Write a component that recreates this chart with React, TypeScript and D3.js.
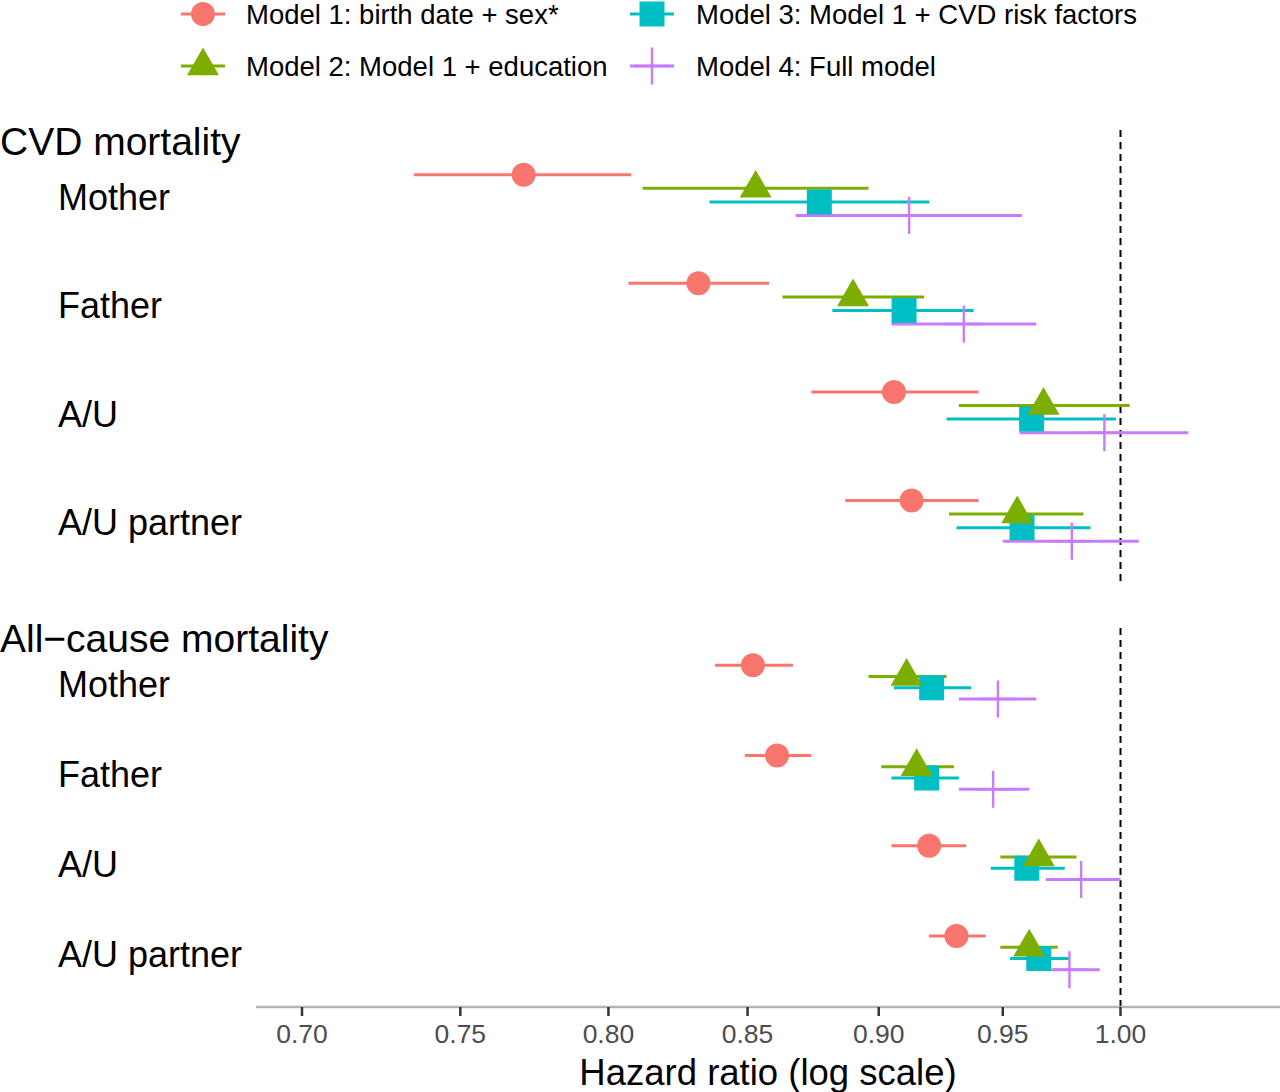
import React from "react";
import * as d3 from "d3";

const outcomes = ["CVD mortality", "All\u2212cause mortality"];
const relatives = ["Mother", "Father", "A/U", "A/U partner"];
const models = [
  "Model 1: birth date + sex*",
  "Model 2: Model 1 + education",
  "Model 3: Model 1 + CVD risk factors",
  "Model 4: Full model",
];
const modelColors = ["#F8766D", "#7CAE00", "#00BFC4", "#C77CFF"];
const modelShapes = ["circle", "triangle", "square", "cross"];

// rows = relatives, columns = models
const cvdHR = [
  [0.771, 0.853, 0.877, 0.912],
  [0.832, 0.89, 0.91, 0.934],
  [0.906, 0.967, 0.962, 0.993],
  [0.913, 0.956, 0.958, 0.979],
];
const cvdLower = [
  [0.735, 0.812, 0.836, 0.868],
  [0.807, 0.863, 0.882, 0.905],
  [0.874, 0.932, 0.927, 0.957],
  [0.887, 0.928, 0.931, 0.95],
];
const cvdUpper = [
  [0.808, 0.896, 0.92, 0.958],
  [0.858, 0.918, 0.938, 0.964],
  [0.94, 1.004, 0.998, 1.03],
  [0.94, 0.984, 0.987, 1.008],
];
const allHR = [
  [0.852, 0.911, 0.921, 0.948],
  [0.861, 0.915, 0.919, 0.946],
  [0.92, 0.965, 0.96, 0.983],
  [0.931, 0.961, 0.965, 0.978],
];
const allLower = [
  [0.838, 0.896, 0.906, 0.932],
  [0.849, 0.901, 0.905, 0.932],
  [0.905, 0.949, 0.945, 0.968],
  [0.92, 0.949, 0.953, 0.971],
];
const allUpper = [
  [0.867, 0.927, 0.937, 0.964],
  [0.874, 0.93, 0.932, 0.961],
  [0.935, 0.981, 0.976, 1.0],
  [0.943, 0.973, 0.978, 0.991],
];

const tickValues = [0.7, 0.75, 0.8, 0.85, 0.9, 0.95, 1.0];
const tickLabels = ["0.70", "0.75", "0.80", "0.85", "0.90", "0.95", "1.00"];
const axisTitle = "Hazard ratio (log scale)";

const FONT = "'Liberation Sans', Arial, Helvetica, sans-serif";
const W = 1280;
const H = 1092;
const panelLeft = 256;
const panelRight = 1280;
const axisY = 1007;

const x = d3.scaleLog().domain([0.7, 1.0]).range([302, 1120.5]);

const panels = [
  { hr: cvdHR, lo: cvdLower, hi: cvdUpper, top: 130, bottom: 586, headY: 155 },
  { hr: allHR, lo: allLower, hi: allUpper, top: 628, bottom: 1007, headY: 652 },
];

const R = 12;
const SQ = 25;
const TRI_W = 32;
const CROSS = 37;

function Marker({ shape, color, cx, cy }: { shape: string; color: string; cx: number; cy: number }) {
  if (shape === "circle") return <circle cx={cx} cy={cy} r={R} fill={color} />;
  if (shape === "square")
    return <rect x={cx - SQ / 2} y={cy - SQ / 2} width={SQ} height={SQ} fill={color} />;
  if (shape === "triangle") {
    const s = Math.pow(TRI_W / (2 * Math.sqrt(3)), 2) * 3 * Math.sqrt(3);
    const p = d3.symbol(d3.symbolTriangle, s)() as string;
    return <path d={p} transform={`translate(${cx},${cy})`} fill={color} />;
  }
  return (
    <g stroke={color} strokeWidth={2.4}>
      <line x1={cx - CROSS / 2} x2={cx + CROSS / 2} y1={cy} y2={cy} />
      <line x1={cx} x2={cx} y1={cy - CROSS / 2} y2={cy + CROSS / 2} />
    </g>
  );
}

export default function App() {
  const legendCols = [
    { keyX: 203, textX: 246 },
    { keyX: 652, textX: 696 },
  ];
  const legendRows = [14, 66];
  // legend ordering: column-major (Model1, Model2 in col 1; Model3, Model4 in col 2)
  const legendItems = models.map((m, i) => ({
    label: m,
    color: modelColors[i],
    shape: modelShapes[i],
    kx: legendCols[Math.floor(i / 2)].keyX,
    tx: legendCols[Math.floor(i / 2)].textX,
    y: legendRows[i % 2],
  }));

  return (
    <svg
      width={W}
      height={H}
      viewBox={`0 0 ${W} ${H}`}
      style={{ position: "absolute", left: 0, top: 0, background: "#fff" }}
      fontFamily={FONT}
    >
      <rect x={0} y={0} width={W} height={H} fill="#fff" />
      {/* legend */}
      {legendItems.map((it, i) => (
        <g key={"lg" + i}>
          <line x1={it.kx - 22} x2={it.kx + 22} y1={it.y} y2={it.y} stroke={it.color} strokeWidth={3} />
          <Marker shape={it.shape} color={it.color} cx={it.kx} cy={it.y} />
          <text x={it.tx} y={it.y} dominantBaseline="central" fontSize={27.5} fill="#000">
            {it.label}
          </text>
        </g>
      ))}

      {panels.map((p, pi) => {
        const y = d3.scalePoint<string>().domain(relatives).range([p.top, p.bottom]).padding(0.6);
        const step = y.step();
        const dodge = step * 0.125;
        const off = (j: number) => (j - 1.5) * dodge;
        return (
          <g key={"p" + pi}>
            <text x={0} y={p.headY} fontSize={39} fill="#000">
              {outcomes[pi]}
            </text>
            {relatives.map((r) => (
              <text key={r} x={58} y={(y(r) as number) + 2} dominantBaseline="central" fontSize={36} fill="#000">
                {r}
              </text>
            ))}
            <line
              x1={x(1)}
              x2={x(1)}
              y1={p.top}
              y2={p.bottom}
              stroke="#000"
              strokeWidth={2}
              strokeDasharray="7,5"
            />
            {relatives.map((r, ri) =>
              models.map((m, mi) => (
                <line
                  key={r + m + "ci"}
                  x1={x(p.lo[ri][mi])}
                  x2={x(p.hi[ri][mi])}
                  y1={(y(r) as number) + off(mi)}
                  y2={(y(r) as number) + off(mi)}
                  stroke={modelColors[mi]}
                  strokeWidth={3}
                />
              ))
            )}
            {relatives.map((r, ri) =>
              models
                .map((m, mi) => mi)
                .reverse()
                .map((mi) => (
                  <Marker
                    key={r + mi + "pt"}
                    shape={modelShapes[mi]}
                    color={modelColors[mi]}
                    cx={x(p.hr[ri][mi])}
                    cy={(y(r) as number) + off(mi)}
                  />
                ))
            )}
          </g>
        );
      })}

      {/* x axis */}
      <line x1={panelLeft} x2={panelRight} y1={axisY} y2={axisY} stroke="#b3b3b3" strokeWidth={2.5} />
      {tickValues.map((t, i) => (
        <g key={"t" + i}>
          <line x1={x(t)} x2={x(t)} y1={axisY} y2={axisY + 9} stroke="#333" strokeWidth={2.5} />
          <text x={x(t)} y={axisY + 36} textAnchor="middle" fontSize={26.5} fill="#4d4d4d">
            {tickLabels[i]}
          </text>
        </g>
      ))}
      <text x={(panelLeft + panelRight) / 2} y={1085} textAnchor="middle" fontSize={36.5} fill="#000">
        {axisTitle}
      </text>
    </svg>
  );
}
